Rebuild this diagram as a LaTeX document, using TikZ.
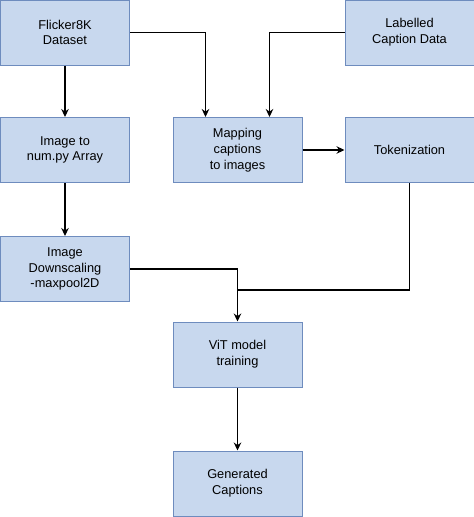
\documentclass[tikz,border=0pt]{standalone}
\usepackage{fontspec}
\setmainfont{Liberation Sans}
\usetikzlibrary{arrows.meta}
\definecolor{boxfill}{RGB}{200,216,238}
\definecolor{boxline}{RGB}{110,140,190}
\begin{document}
\begin{tikzpicture}[x=1pt, y=-1pt,
    stage/.style={draw=boxline, fill=boxfill, line width=1pt, minimum width=129pt, minimum height=65pt,
        align=center, font=\fontsize{12.8}{15.8}\selectfont, inner sep=2pt},
    arr/.style={-{Stealth[length=8pt, width=7.5pt]}, line width=1.1pt},
    link/.style={line width=1.1pt}]
    \useasboundingbox (0,0) rectangle (474,517);
    % input boxes
    \node[stage] (flk) at (65,32.5) {Flicker8K\\Dataset};
    \node[stage] (lab) at (409.5,32.5) {Labelled\\Caption Data};
    % middle row
    \node[stage] (arr) at (65,150) {Image to\\num.py Array};
    \node[stage] (map) at (237.5,150) {Mapping\\captions\\to images};
    \node[stage] (tok) at (409.5,150) {Tokenization};
    \node[stage] (down) at (65,269) {Image\\Downscaling\\-maxpool2D};
    % model and output
    \node[stage] (vit) at (237.5,354.5) {ViT model\\training};
    \node[stage] (gen) at (237.5,483.5) {Generated\\Captions};
    \coordinate (merge) at (237.5,290);
    % connectors
    \draw[arr] (flk) -- (arr);
    \draw[arr] (arr) -- (down);
    \draw[arr] (flk.east) -| ([xshift=-32pt]map.north);
    \draw[arr] (lab.west) -| ([xshift=32pt]map.north);
    \draw[arr] (map) -- (tok);
    \draw[arr] (down.east) -| (vit.north);
    \draw[link] (tok.south) |- (merge);
    \draw[arr] (vit) -- (gen);
\end{tikzpicture}
\end{document}
